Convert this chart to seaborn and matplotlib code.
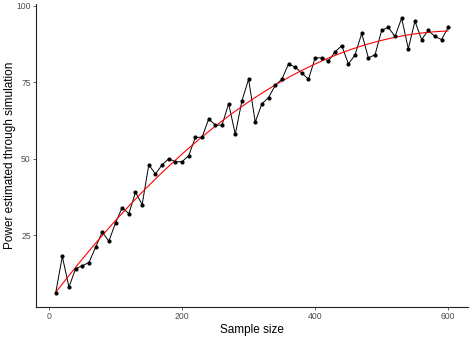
import numpy as np
import pandas as pd
import seaborn as sns
import matplotlib
matplotlib.use("Agg")
import matplotlib.pyplot as plt

# sample sizes and simulated power (%)
sample_size = list(range(10, 610, 10))
power = [6, 18, 8, 14, 15, 16, 21, 26, 23, 29,
         34, 32, 39, 35, 48, 45, 48, 50, 49, 49,
         51, 57, 57, 63, 61, 61, 68, 58, 69, 76,
         62, 68, 70, 74, 76, 81, 80, 78, 76, 83,
         83, 82, 85, 87, 81, 84, 91, 83, 84, 92,
         93, 90, 96, 86, 95, 89, 92, 90, 89, 93]
y_ticks = [25, 50, 75, 100]
x_ticks = [0, 200, 400, 600]

df = pd.DataFrame({"n": sample_size, "power": power})

sns.set_style("ticks")
plt.rcParams['font.family'] = ['Liberation Sans', 'DejaVu Sans']

fig = plt.figure(figsize=(4.74, 3.38), dpi=100)
ax = fig.add_axes([0.076, 0.092, 0.911, 0.895])

sns.lineplot(data=df, x="n", y="power", color="black", linewidth=0.7, ax=ax)
sns.scatterplot(data=df, x="n", y="power", color="black", s=9, edgecolor="black",
                linewidth=0, ax=ax, zorder=3)
sns.regplot(data=df, x="n", y="power", order=2, ci=None, scatter=False,
            line_kws={"color": "red", "linewidth": 0.8}, ax=ax)

ax.set_xlim(-19.5, 629.5)
ax.set_ylim(1.5, 100.5)
ax.set_xticks(x_ticks)
ax.set_yticks(y_ticks)
ax.set_xlabel("Sample size", fontsize=8.5, color="black", labelpad=2)
ax.set_ylabel("Power estimated through simulation", fontsize=8.5, color="black",
              labelpad=0)
ax.tick_params(labelsize=6.2, colors="#4d4d4d", length=2.2, width=0.6, pad=1.6)
for s in ["left", "bottom"]:
    ax.spines[s].set_linewidth(0.8)
    ax.spines[s].set_color("#222222")
sns.despine(ax=ax)

fig.savefig("out.png", dpi=100)
